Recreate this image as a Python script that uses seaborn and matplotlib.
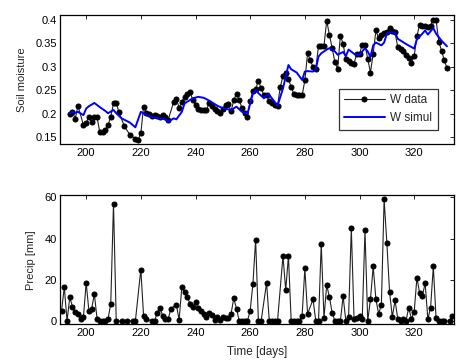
import numpy as np
import pandas as pd
import matplotlib
matplotlib.use("Agg")
import matplotlib.pyplot as plt
import seaborn as sns
from matplotlib.ticker import FormatStrFormatter

# soil moisture, measured (W data)
w_days = [194, 195, 196, 197, 199, 200, 201, 202, 203, 204, 205, 206, 207, 208, 209,
          210, 211, 212, 214, 216, 218, 219, 220, 221, 222, 223, 224, 225, 226, 227,
          228, 229, 230, 232, 233, 234, 235, 236, 237, 238, 239, 240, 241, 242, 243,
          244, 245, 246, 247, 248, 249, 250, 251, 252, 253, 254, 255, 256, 257, 258,
          259, 260, 261, 262, 263, 264, 265, 266, 267, 268, 269, 270, 271, 272, 273,
          274, 275, 276, 277, 278, 279, 280, 281, 282, 283, 284, 285, 286, 287, 288,
          289, 290, 291, 292, 293, 294, 295, 296, 297, 298, 299, 300, 301, 302, 303,
          304, 305, 306, 307, 308, 309, 310, 311, 312, 313, 314, 315, 316, 317, 318,
          319, 320, 321, 322, 323, 324, 325, 326, 327, 328, 329, 330, 331, 332]
w_data = [0.200, 0.204, 0.189, 0.217, 0.176, 0.181, 0.193, 0.183, 0.192, 0.192, 0.160, 0.162, 0.166, 0.175, 0.194,
          0.222, 0.223, 0.203, 0.173, 0.155, 0.147, 0.144, 0.158, 0.215, 0.202, 0.199, 0.195, 0.197, 0.196, 0.194,
          0.197, 0.194, 0.187, 0.225, 0.232, 0.213, 0.225, 0.236, 0.243, 0.247, 0.229, 0.219, 0.209, 0.208, 0.208,
          0.208, 0.223, 0.217, 0.211, 0.206, 0.201, 0.211, 0.218, 0.220, 0.205, 0.229, 0.243, 0.229, 0.212, 0.201,
          0.193, 0.228, 0.248, 0.253, 0.270, 0.255, 0.240, 0.239, 0.227, 0.222, 0.219, 0.217, 0.256, 0.281, 0.286,
          0.274, 0.257, 0.242, 0.240, 0.239, 0.239, 0.271, 0.329, 0.315, 0.299, 0.296, 0.345, 0.345, 0.345, 0.399,
          0.368, 0.340, 0.310, 0.296, 0.367, 0.349, 0.316, 0.313, 0.309, 0.307, 0.328, 0.328, 0.347, 0.347, 0.317,
          0.288, 0.328, 0.378, 0.361, 0.368, 0.373, 0.374, 0.383, 0.376, 0.374, 0.342, 0.339, 0.335, 0.325, 0.319,
          0.309, 0.323, 0.366, 0.390, 0.388, 0.388, 0.385, 0.388, 0.401, 0.401, 0.354, 0.335, 0.314, 0.298]

# soil moisture, simulated (W simul)
s_days = [194, 195, 196, 197, 199, 200, 201, 203, 205, 207, 208, 210, 211, 213, 216,
          218, 220, 222, 224, 227, 229, 230, 232, 233, 235, 236, 239, 241, 243, 245,
          248, 250, 253, 255, 257, 259, 261, 262, 263, 265, 266, 267, 269, 270, 272,
          274, 275, 277, 279, 280, 281, 283, 284, 285, 286, 288, 289, 291, 292, 294,
          295, 296, 298, 299, 300, 302, 303, 304, 305, 306, 308, 309, 310, 311, 313,
          314, 317, 320, 321, 323, 324, 325, 327, 328, 330, 332]
w_simul = [0.201, 0.204, 0.202, 0.204, 0.197, 0.211, 0.216, 0.223, 0.214, 0.206, 0.201, 0.208, 0.201, 0.190, 0.181,
           0.171, 0.204, 0.197, 0.193, 0.190, 0.188, 0.183, 0.190, 0.188, 0.204, 0.222, 0.233, 0.236, 0.234, 0.228,
           0.217, 0.212, 0.208, 0.215, 0.204, 0.200, 0.243, 0.250, 0.244, 0.233, 0.239, 0.240, 0.225, 0.217, 0.254,
           0.304, 0.295, 0.288, 0.272, 0.290, 0.291, 0.290, 0.295, 0.322, 0.329, 0.337, 0.340, 0.333, 0.326, 0.332,
           0.323, 0.337, 0.328, 0.325, 0.326, 0.340, 0.333, 0.321, 0.346, 0.352, 0.346, 0.352, 0.371, 0.374, 0.373,
           0.360, 0.349, 0.339, 0.359, 0.371, 0.378, 0.369, 0.383, 0.371, 0.356, 0.344]

# precipitation
p_days = [191, 192, 193, 194, 195, 196, 197, 198, 199, 200, 201, 202, 203, 204, 205,
          206, 207, 208, 209, 210, 211, 213, 215, 217, 218, 220, 221, 222, 224, 225,
          226, 227, 228, 229, 230, 231, 233, 234, 235, 236, 237, 238, 239, 240, 241,
          242, 243, 244, 245, 246, 247, 248, 249, 250, 251, 252, 253, 254, 255, 256,
          257, 258, 259, 260, 261, 262, 263, 264, 266, 267, 268, 269, 270, 272, 273,
          274, 275, 276, 277, 278, 279, 280, 281, 283, 284, 285, 286, 287, 288, 289,
          290, 291, 292, 293, 294, 295, 296, 297, 298, 299, 300, 301, 302, 303, 304,
          305, 306, 307, 308, 309, 310, 311, 312, 313, 314, 315, 316, 317, 318, 319,
          320, 321, 322, 323, 324, 325, 326, 327, 328, 329, 330, 331, 333, 334]
precip = [5, 16.5, 0, 11.5, 7, 4.5, 3.5, 1, 2, 18.5, 5, 6, 13, 1, 0,
          0, 0, 1, 8.5, 57, 0, 0, 0, 0, 0, 25, 2.5, 1, 0, 0,
          4, 6.5, 2.5, 1, 1, 6, 8, 0.5, 16.5, 14, 11.5, 8.5, 7, 9, 6.5,
          5, 3.5, 2, 4, 3, 0.5, 2, 0.5, 2, 1.5, 1.5, 3.5, 11, 6, 0,
          0, 0, 0, 5, 18, 39.5, 0, 0, 18.5, 0, 0, 0, 0, 31.5, 15,
          31.5, 0, 0, 0, 0, 2.5, 25.5, 3.5, 10.5, 0, 0, 37.5, 1.5, 17.5, 11.5,
          4, 0, 0, 0, 12, 0, 2, 45, 1, 1.5, 2.5, 1, 44, 0, 10.5,
          26.5, 10.5, 3.5, 8, 59, 38, 14, 2, 10, 1, 0, 1, 0, 6.5, 1,
          4.5, 21, 13.5, 12, 18.5, 1, 6.5, 26.5, 1.5, 0, 0, 0, 0, 2.5]

sns.set_theme(style="white")
plt.rcParams["font.family"] = ["Liberation Sans", "DejaVu Sans"]
plt.rcParams["font.size"] = 8

fig = plt.figure(figsize=(4.74, 3.64), dpi=100)
ax1 = fig.add_axes([0.127, 0.604, 0.831, 0.355])
ax2 = fig.add_axes([0.127, 0.109, 0.831, 0.355])

sns.lineplot(x=w_days, y=w_data, ax=ax1, color="#222222", lw=0.8, marker="o",
             markersize=3.6, markerfacecolor="black", markeredgecolor="black",
             label="W data")
sns.lineplot(x=s_days, y=w_simul, ax=ax1, color="#0000ff", lw=1.4, label="W simul")

sns.lineplot(x=p_days, y=precip, ax=ax2, color="#222222", lw=0.8, marker="o",
             markersize=3.6, markerfacecolor="black", markeredgecolor="black")

for ax in (ax1, ax2):
    ax.set_xlim(190.5, 334.6)
    ax.set_xticks([200, 220, 240, 260, 280, 300, 320])
    ax.tick_params(direction="in", top=True, right=True, length=3, width=0.6,
                   labelsize=8, colors="black", pad=2.5)
    for sp in ax.spines.values():
        sp.set_color("black")
        sp.set_linewidth(0.9)

ax1.set_ylim(0.135, 0.411)
ax1.set_yticks([0.15, 0.2, 0.25, 0.3, 0.35, 0.4])
ax1.yaxis.set_major_formatter(FormatStrFormatter("%g"))
ax1.set_ylabel("Soil moisture", fontsize=8, labelpad=6)
ax1.set_xlabel("")

ax2.set_ylim(-1.6, 61.1)
ax2.set_yticks([0, 20, 40, 60])
ax2.set_ylabel("Precip [mm]", fontsize=8, labelpad=6)
ax2.set_xlabel("Time [days]", fontsize=8.5, labelpad=6)

leg = ax1.legend(loc="upper left", bbox_to_anchor=(0.708, 0.43), fontsize=8.5,
                 frameon=True, fancybox=False, handlelength=3.4, borderpad=0.45,
                 labelspacing=0.55, handletextpad=0.5, borderaxespad=0)
leg.get_frame().set_edgecolor("black")
leg.get_frame().set_linewidth(0.9)

fig.savefig("out.png", dpi=100)
